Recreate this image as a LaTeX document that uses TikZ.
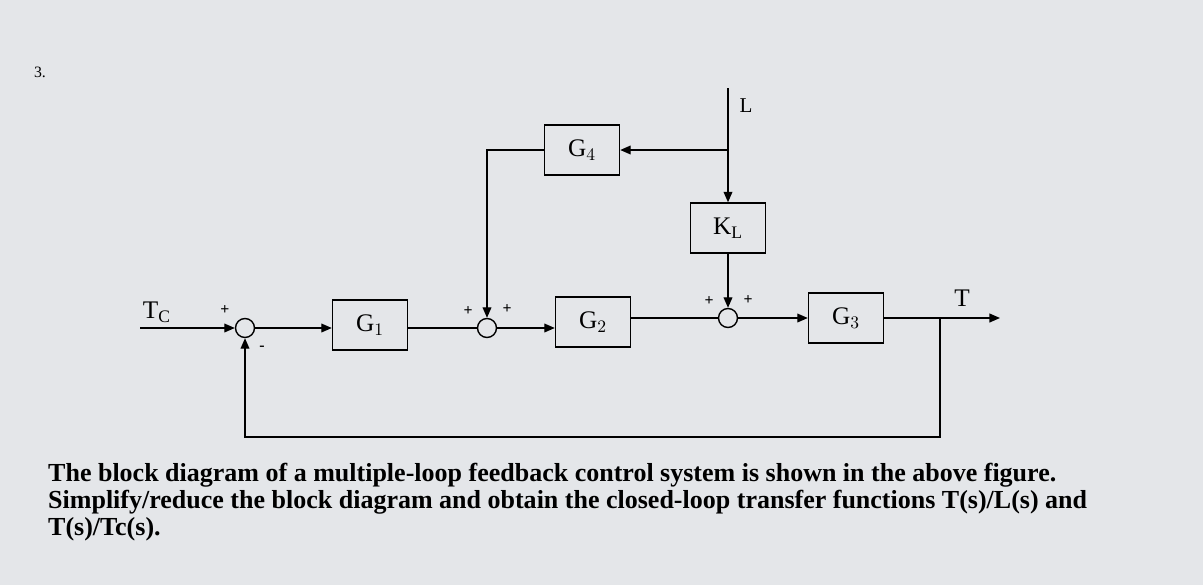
\documentclass[tikz,border=0pt]{standalone}
\usepackage{fontspec}
\setmainfont{Liberation Serif}
\usetikzlibrary{arrows.meta}
\definecolor{paper}{RGB}{228,230,233}
\begin{document}
\begin{tikzpicture}[x=0.02cm,y=-0.02cm,
  blk/.style={draw,line width=0.8pt,minimum width=1.5cm,minimum height=1cm,font=\Large},
  sumj/.style={draw,circle,line width=0.8pt,minimum size=0.38cm,inner sep=0pt},
  ar/.style={-{Triangle[length=6pt,width=5pt]},line width=0.8pt},
  ln/.style={line width=0.8pt},
  sg/.style={font=\small\bfseries,inner sep=1pt}]
\fill[paper] (0,0) rectangle (1203,585);
\useasboundingbox (0,0) rectangle (1203,585);
\node at (40,72) {\small 3.};
\node[sumj] (s1) at (245,328) {};
\node[sumj] (s2) at (487,328) {};
\node[sumj] (s3) at (728,318) {};
\node[blk] (g1) at (370,325) {G$_1$};
\node[blk] (g2) at (593,322) {G$_2$};
\node[blk] (g3) at (846,318) {G$_3$};
\node[blk] (g4) at (582,150) {G$_4$};
\node[blk] (kl) at (728,228) {K$_\mathrm{L}$};
\coordinate (tin) at (140,328);
\coordinate (tout) at (1000,318);
\coordinate (tap) at (940,318);
\coordinate (lt) at (728,88);
\coordinate (lb) at (728,150);
\node[font=\Large] at (157,312) {T$_\mathrm{C}$};
\node[font=\Large] at (962,298) {T};
\node[font=\large] at (746,106) {L};
\draw[ar] (tin) -- (s1);
\draw[ar] (s1) -- (s1 -| g1.west);
\draw[ln] (s2 -| g1.east) -- (s2);
\draw[ar] (s2) -- (s2 -| g2.west);
\draw[ln] (s3 -| g2.east) -- (s3);
\draw[ar] (s3) -- (g3);
\draw[ar] (g3.east) -- (tout);
\draw[ar] (tap) -- (940,437) -| (s1);
\draw[ar] (lt) -- (kl.north);
\draw[ar] (lb) -- (g4.east);
\draw[ar] (g4.west) -| (s2);
\draw[ar] (kl.south) -- (s3);
\node[sg] at (225,310) {+};
\node[sg] at (262,348) {-};
\node[sg] at (468,311) {+};
\node[sg] at (507,309) {+};
\node[sg] at (709,301) {+};
\node[sg] at (748,300) {+};
\node[anchor=north west,align=left,font=\bfseries\fontsize{14.8}{15.3}\selectfont] at (42,457)
{The block diagram of a multiple-loop feedback control system is shown in the above figure.\\
Simplify/reduce the block diagram and obtain the closed-loop transfer functions T(s)/L(s) and\\
T(s)/Tc(s).};
\end{tikzpicture}
\end{document}
